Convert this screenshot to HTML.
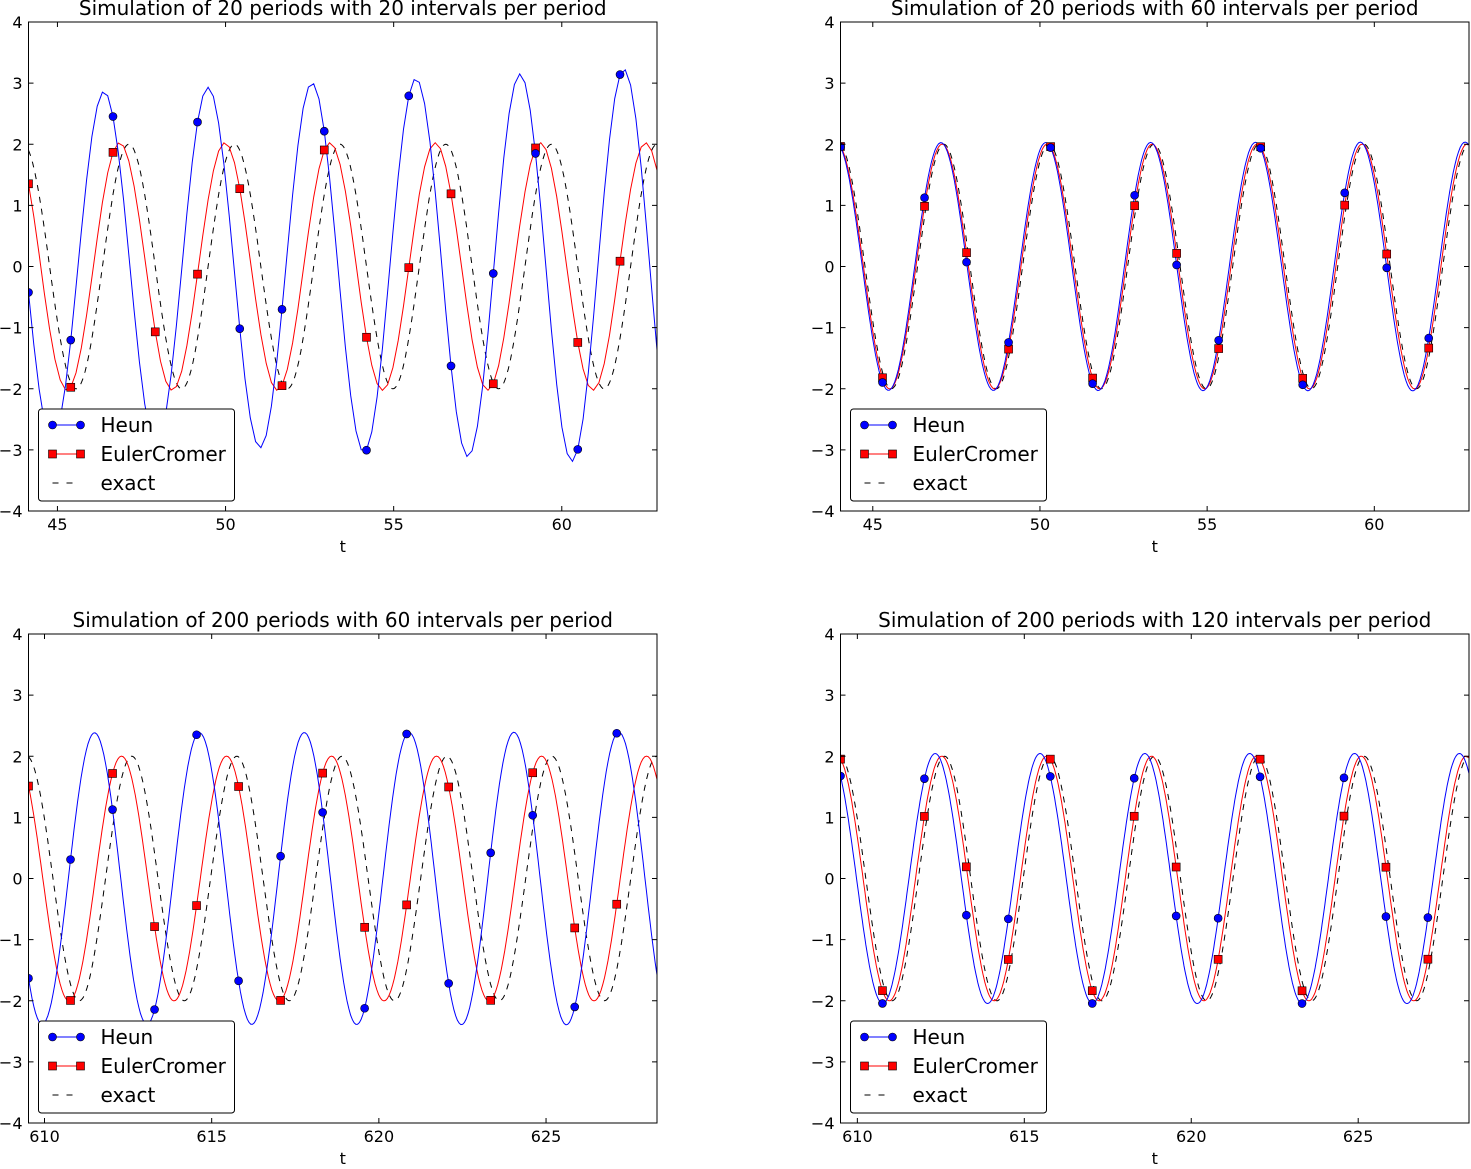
<!DOCTYPE html>
<html><head><meta charset="utf-8"><style>
html,body{margin:0;padding:0;background:#fff;}
svg text{font-family:"DejaVu Sans","Liberation Sans",sans-serif;}
</style></head><body>
<svg id="s" width="1471" height="1164" xmlns="http://www.w3.org/2000/svg"></svg>
<script>
const S=document.getElementById('s');let out='';
const W=2;
function sim(N,P){const dt=Math.PI/N,n=N*P;let hu=[2],eu=[2];let u=2,v=0;
for(let i=0;i<n;i++){const us=u+dt*v,vs=v-dt*W*W*u;const un=u+dt/2*(v+vs),vn=v-dt/2*W*W*(u+us);u=un;v=vn;hu.push(u);}
u=2;v=0;for(let i=0;i<n;i++){v=v-dt*W*W*u;u=u+dt*v;eu.push(u);}return {dt,n,hu,eu};}
const plots=[[28.5,22,20,20,[45,50,55,60],'Simulation of 20 periods with 20 intervals per period'],
[840.5,22,60,20,[45,50,55,60],'Simulation of 20 periods with 60 intervals per period'],
[28.5,634,60,200,[610,615,620,625],'Simulation of 200 periods with 60 intervals per period'],
[840.5,634,120,200,[610,615,620,625],'Simulation of 200 periods with 120 intervals per period']];
plots.forEach((p,k)=>{const [L,T,N,P,ticks,title]=p;const Wd=628.5,H=489;
const r=sim(N,P);const start=r.n-6*N+1;const t0=start*r.dt,t1=r.n*r.dt;
const X=t=>L+(t-t0)/(t1-t0)*Wd,Y=y=>T+H/2-y*H/8;
out+=`<clipPath id="c${k}"><rect x="${L}" y="${T}" width="${Wd}" height="${H}"/></clipPath>`;
out+=`<rect x="${L}" y="${T}" width="${Wd}" height="${H}" fill="#fff"/>`;
out+=`<g clip-path="url(#c${k})">`;
let d='';for(let i=0;i<=600;i++){const t=t0+(t1-t0)*i/600;d+=(i?'L':'M')+X(t).toFixed(1)+' '+Y(2*Math.cos(W*t)).toFixed(1);}
out+=`<path d="${d}" fill="none" stroke="#000" stroke-width="1" stroke-dasharray="6,6"/>`;
let dh='',de='';for(let i=start;i<=r.n;i++){const x=X(i*r.dt).toFixed(1);dh+=(i>start?'L':'M')+x+' '+Y(r.hu[i]).toFixed(1);de+=(i>start?'L':'M')+x+' '+Y(r.eu[i]).toFixed(1);}
out+=`<path d="${de}" fill="none" stroke="#f00" stroke-width="1"/><path d="${dh}" fill="none" stroke="#00f" stroke-width="1"/>`;
const m=Math.round(6*N/15);
for(let i=start;i<=r.n;i+=m){const x=X(i*r.dt);out+=`<rect x="${x-4}" y="${Y(r.eu[i])-4}" width="8" height="8" fill="#f00" stroke="#000" stroke-width="0.6"/>`;}
for(let i=start;i<=r.n;i+=m){const x=X(i*r.dt);out+=`<circle cx="${x}" cy="${Y(r.hu[i])}" r="4" fill="#00f" stroke="#000" stroke-width="0.6"/>`;}
out+='</g>';
out+=`<rect x="${L}" y="${T}" width="${Wd}" height="${H}" fill="none" stroke="#000" stroke-width="1"/>`;
for(let v=-4;v<=4;v++){const y=Y(v);out+=`<line x1="${L}" y1="${y}" x2="${L+5}" y2="${y}" stroke="#000"/><line x1="${L+Wd}" y1="${y}" x2="${L+Wd-5}" y2="${y}" stroke="#000"/>`;
out+=`<text x="${L-6}" y="${y+6}" font-size="16" text-anchor="end">${v<0?'\u2212'+(-v):v}</text>`;}
ticks.forEach(t=>{const x=X(t);out+=`<line x1="${x}" y1="${T+H}" x2="${x}" y2="${T+H-5}" stroke="#000"/><line x1="${x}" y1="${T}" x2="${x}" y2="${T+5}" stroke="#000"/>`;
out+=`<text x="${x}" y="${T+H+19}" font-size="16" text-anchor="middle">${t}</text>`;});
out+=`<text x="${L+Wd/2}" y="${T+H+41}" font-size="16" text-anchor="middle">t</text>`;
out+=`<text x="${L+Wd/2}" y="${T-7}" font-size="20" text-anchor="middle">${title}</text>`;
const lx=L+10,ly=T+387;
out+=`<rect x="${lx}" y="${ly}" width="196" height="92" rx="3" fill="#fff" stroke="#000" stroke-width="1"/>`;
out+=`<line x1="${lx+14}" y1="${ly+16}" x2="${lx+42}" y2="${ly+16}" stroke="#00f"/><circle cx="${lx+14}" cy="${ly+16}" r="4" fill="#00f" stroke="#000" stroke-width="0.6"/><circle cx="${lx+42}" cy="${ly+16}" r="4" fill="#00f" stroke="#000" stroke-width="0.6"/>`;
out+=`<line x1="${lx+14}" y1="${ly+45}" x2="${lx+42}" y2="${ly+45}" stroke="#f00"/><rect x="${lx+10}" y="${ly+41}" width="8" height="8" fill="#f00" stroke="#000" stroke-width="0.6"/><rect x="${lx+38}" y="${ly+41}" width="8" height="8" fill="#f00" stroke="#000" stroke-width="0.6"/>`;
out+=`<line x1="${lx+14}" y1="${ly+74}" x2="${lx+42}" y2="${ly+74}" stroke="#000" stroke-dasharray="6,8"/>`;
out+=`<text x="${lx+62}" y="${ly+23}" font-size="20">Heun</text><text x="${lx+62}" y="${ly+52}" font-size="20">EulerCromer</text><text x="${lx+62}" y="${ly+81}" font-size="20">exact</text>`;
});
S.innerHTML=out;
</script>
</body></html>
